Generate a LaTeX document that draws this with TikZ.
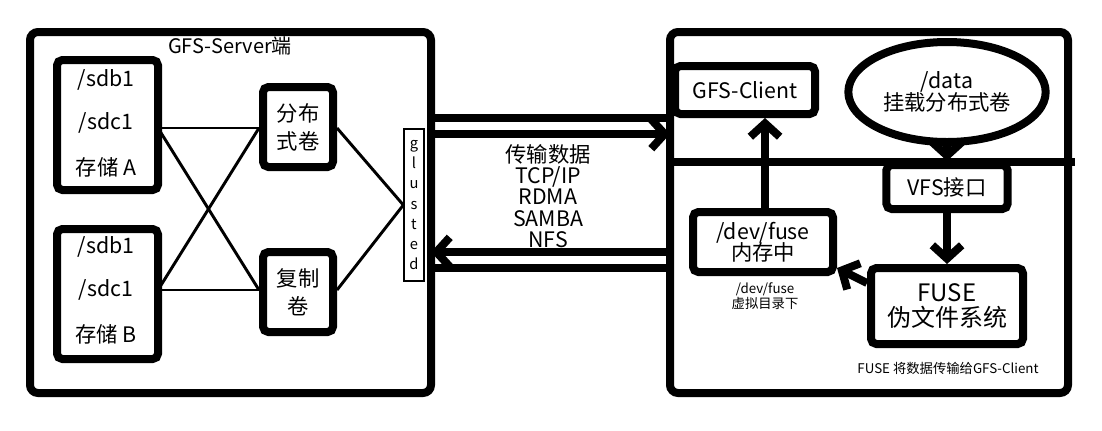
\documentclass[tikz,border=0pt]{standalone}
\usepackage{fontspec}
\setmainfont{Noto Sans CJK SC}
\usetikzlibrary{shapes.geometric,arrows.meta}
\begin{document}
\begin{tikzpicture}[x=0.75pt,y=-0.75pt,
 thick box/.style={draw,line width=6pt,rounded corners=6pt},
 bx/.style={draw,line width=6pt,rounded corners=4pt,align=center,inner sep=0pt},
 ln/.style={line width=2.2pt},
 fat/.style={line width=6pt},
 arr/.style={line width=6pt,-{Straight Barb[length=10pt,width=22pt,line width=6pt]}},
 t/.style={font=\fontsize{16}{17}\selectfont,align=center},
 s/.style={font=\fontsize{10}{11}\selectfont,align=center}]
\useasboundingbox (0,0) rectangle (1102,430);
% left frame
\draw[thick box] (30,32) rectangle (431,393);
\node[t,anchor=south,font=\fontsize{15}{16}\selectfont] (srvlbl) at (230,60) {GFS-Server端};
\draw[bx] (57,60) rectangle (158,190);
\node[t] (a1) at (106,80) {/sdb1};
\node[t] (a2) at (106,123) {/sdc1};
\node[t] (a3) at (106,167) {存储 A};
\draw[bx] (57,229) rectangle (158,359);
\node[t] (b1) at (106,247) {/sdb1};
\node[t] (b2) at (106,290) {/sdc1};
\node[t] (b3) at (106,334) {存储 B};
\node[bx,minimum width=52.5pt,minimum height=60pt,t] (dist) at (298,127) {分布\\[4pt]式卷};
\node[bx,minimum width=52.5pt,minimum height=60pt,t] (rep) at (298,292) {复制\\[4pt]卷};
\node[draw,line width=1pt,minimum width=15pt,minimum height=114pt,inner sep=0pt] (gl) at (414,205) {};
\node[font=\fontsize{11}{15}\selectfont,align=center] at (414,205) {g\\l\\u\\s\\t\\e\\d};
\coordinate (sa) at (158,128);
\coordinate (sb) at (158,290);
\draw[ln] (sa) -- (dist.west|-sa);
\draw[ln] (sa) -- (rep.west|-sb);
\draw[ln] (sb) -- (rep.west|-sb);
\draw[ln] (sb) -- (dist.west|-sa);
\draw[ln] (dist.east|-sa) -- (gl.west);
\draw[ln] (rep.east|-sb) -- (gl.west);
% right frame
\draw[thick box] (670,32) rectangle (1068,393);
\draw[fat] (670,162) -- (1075,162);
\node[bx,minimum width=105pt,minimum height=36pt,t] (cli) at (745,90) {GFS-Client};
\node[ellipse,draw,line width=6pt,minimum width=148pt,minimum height=75pt,t,inner sep=0pt] (data) at (947,92) {/data\\[-1pt]挂载分布式卷};
\node[bx,minimum width=91pt,minimum height=33pt,t] (vfs) at (947,187) {VFS接口};
\node[bx,minimum width=114pt,minimum height=57pt,t,font=\fontsize{18}{19}\selectfont] (fuse) at (947,306) {FUSE\\伪文件系统};
\node[bx,minimum width=105pt,minimum height=45pt,t] (dev) at (763,242) {/dev/fuse\\[-1pt]内存中};
\node[s] (devlbl) at (765,296) {/dev/fuse\\虚拟目录下};
\node[s] (fuselbl) at (948,368) {FUSE 将数据传输给GFS-Client};
\draw[arr] (data) -- (vfs.north);
\draw[arr] (vfs) -- (fuse);
\draw[arr] (fuse.west|-0,283) -- (dev.east|-0,268);
\draw[arr] (dev.north-|765,0) -- (cli.south-|765,0);
% middle arrows
\coordinate (r1) at (670,118); \coordinate (r2) at (670,134);
\coordinate (l1) at (431,118); \coordinate (l2) at (431,134);
\draw[fat] (l1) -- (r1);
\draw[arr] (l2) -- (r2);
\coordinate (r3) at (670,252); \coordinate (r4) at (670,268);
\coordinate (l3) at (431,252); \coordinate (l4) at (431,268);
\draw[arr] (r3) -- (l3);
\draw[fat] (r4) -- (l4);
\node[font=\fontsize{16}{16}\selectfont,align=center] (mid) at (548,196) {传输数据\\TCP/IP\\RDMA\\SAMBA\\NFS};
\end{tikzpicture}
\end{document}
